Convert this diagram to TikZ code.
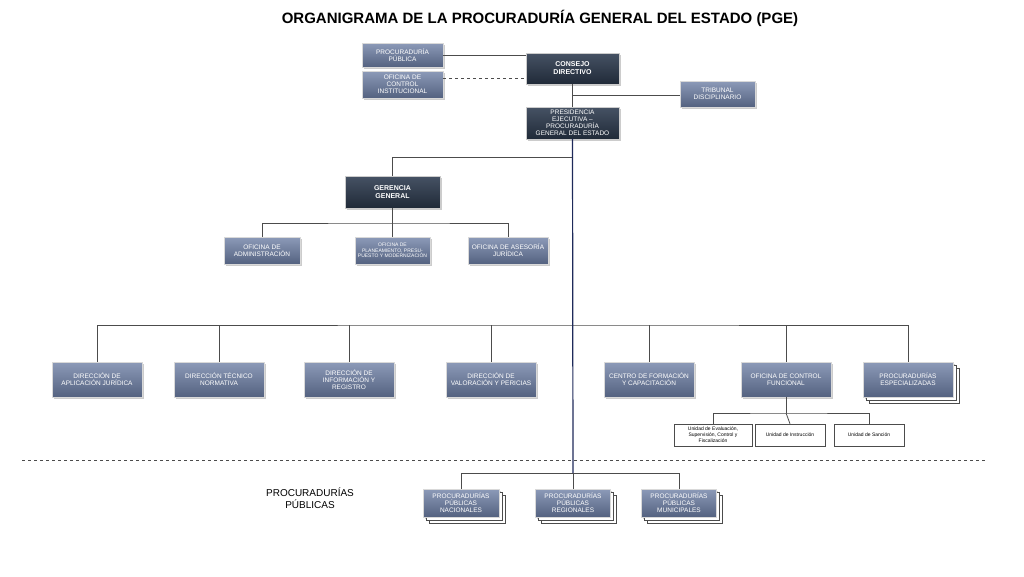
\documentclass[tikz,border=0pt]{standalone}
\usepackage{fontspec}
\setmainfont{Liberation Sans}
\usetikzlibrary{shadows}
\definecolor{lt}{RGB}{140,154,184}
\definecolor{lm}{RGB}{112,126,156}
\definecolor{lbm}{RGB}{84,98,128}
\definecolor{dt}{RGB}{70,82,100}
\definecolor{dbm}{RGB}{32,42,56}
\definecolor{trk}{RGB}{30,42,90}
\begin{document}
\begin{tikzpicture}[x=1pt,y=-1pt,
 lb/.style={draw=white!70!gray,line width=0.4pt,top color=lt,middle color=lm,bottom color=lbm,
  text=white,font=\fontsize{6.5}{7}\selectfont,align=center,inner sep=1pt,drop shadow={shadow xshift=1.5pt,shadow yshift=-1.5pt,opacity=0.4}},
 db/.style={draw=white!60!gray,line width=0.4pt,top color=dt,bottom color=dbm,
  text=white,font=\bfseries\fontsize{7}{8}\selectfont,align=center,inner sep=1pt,drop shadow={shadow xshift=1.5pt,shadow yshift=-1.5pt,opacity=0.4}},
 st/.style={lb,double copy shadow={shadow xshift=3pt,shadow yshift=-3pt,fill=white,draw=black!70}},
 ub/.style={draw=black!70,fill=white,font=\fontsize{5}{6}\selectfont,align=center,inner sep=1pt},
 ln/.style={draw=black!70,line width=0.8pt},
 tr/.style={draw=trk,line width=1.2pt}]
\useasboundingbox (0,0) rectangle (1024,576);
\node[font=\bfseries\fontsize{15}{17}\selectfont] (title) at (540,18) {ORGANIGRAMA DE LA PROCURADURÍA GENERAL DEL ESTADO (PGE)};
\node[lb,minimum width=81pt,minimum height=24pt] (pp) at (402.5,55) {PROCURADURÍA\\PÚBLICA};
\node[lb,minimum width=81pt,minimum height=27pt] (oci) at (402.5,84.5) {OFICINA DE\\CONTROL\\INSTITUCIONAL};
\node[db,minimum width=93pt,minimum height=31pt] (cd) at (572.5,68.5) {CONSEJO\\DIRECTIVO};
\node[lb,minimum width=75pt,minimum height=26pt] (td) at (717.5,94) {TRIBUNAL\\DISCIPLINARIO};
\node[db,font=\fontsize{6.5}{7}\selectfont,minimum width=93pt,minimum height=32pt] (pe) at (572.5,123) {PRESIDENCIA\\EJECUTIVA –\\PROCURADURÍA\\GENERAL DEL ESTADO};
\node[db,minimum width=95pt,minimum height=32pt] (gg) at (392.5,192) {GERENCIA\\GENERAL};
\node[lb,minimum width=76pt,minimum height=27pt] (oa) at (262,250.5) {OFICINA DE\\ADMINISTRACIÓN};
\node[lb,font=\fontsize{5}{5.5}\selectfont,minimum width=75pt,minimum height=27pt] (op) at (392.5,250.5) {OFICINA DE\\PLANEAMIENTO, PRESU-\\PUESTO Y MODERNIZACIÓN};
\node[lb,minimum width=80pt,minimum height=27pt] (oj) at (508,250.5) {OFICINA DE ASESORÍA\\JURÍDICA};
\foreach \n/\x/\t in {d1/97/{DIRECCIÓN  DE\\APLICACIÓN JURÍDICA},d2/219/{DIRECCIÓN TÉCNICO\\NORMATIVA},d3/349/{DIRECCIÓN DE\\INFORMACIÓN Y\\REGISTRO},d4/491/{DIRECCIÓN DE\\VALORACIÓN Y PERICIAS},d5/649/{CENTRO DE FORMACIÓN\\Y CAPACITACIÓN},d6/786/{OFICINA DE CONTROL\\FUNCIONAL}}
  \node[lb,minimum width=90pt,minimum height=35pt] (\n) at (\x,379.5) {\t};
\node[st,minimum width=90pt,minimum height=35pt] (d7) at (908,379.5) {PROCURADURÍAS\\ESPECIALIZADAS};
\node[ub,minimum width=78pt,minimum height=22pt] (u1) at (713,435) {Unidad de Evaluación,\\Supervisión, Control y\\Fiscalización};
\node[ub,minimum width=70pt,minimum height=22pt] (u2) at (790,435) {Unidad de Instrucción};
\node[ub,minimum width=70pt,minimum height=22pt] (u3) at (869,435) {Unidad de Sanción};
\node[font=\fontsize{10}{12}\selectfont,align=center] (ppl) at (310,498) {PROCURADURÍAS\\PÚBLICAS};
\node[st,minimum width=76pt,minimum height=28pt] (b1) at (461,503) {PROCURADURÍAS\\PÚBLICAS\\NACIONALES};
\node[st,minimum width=75pt,minimum height=28pt] (b2) at (573,503) {PROCURADURÍAS\\PÚBLICAS\\REGIONALES};
\node[st,minimum width=75pt,minimum height=28pt] (b3) at (679,503) {PROCURADURÍAS\\PÚBLICAS\\MUNICIPALES};
\coordinate (j1) at (573,95); \coordinate (j2) at (573,157); \coordinate (j3) at (573,325);
\coordinate (j4) at (392.5,223); \coordinate (j5) at (786,413); \coordinate (j6) at (573,473);
\coordinate (dl) at (22,460); \coordinate (dr) at (985,460);
\draw[ln] (pp.east) -- (pp.east -| cd.west);
\draw[ln,dashed,line width=0.6pt] (oci.east|-0,78) -- (cd.west|-0,78);
\draw[ln] (cd.south) -- (pe.north);
\draw[ln] (j1) -- (j1 -| td.west);
\draw[ln] (j2) -| (gg.north);
\draw[ln] (gg.south) -- (j4);
\draw[ln] (oa.north) |- (j4) -| (oj.north);
\draw[ln] (j4) -- (op.north);
\draw[ln] (d1.north) |- (j3) -| (d7.north);
\foreach \n in {d2,d3,d4,d5,d6} \draw[ln] (\n.north) -- (\n.north|-j3);
\draw[ln] (d6.south) -- (j5);
\draw[ln] (u1.north) |- (j5) -| (u3.north);
\draw[ln] (j5) -- (u2.north);
\draw[ln] (b1.north) |- (j6) -| (b3.north);
\draw[ln] (j6) -- (b2.north);
\draw[tr] (pe.south) -- (j6);
\draw[black!70,dashed,line width=0.6pt] (dl) -- (dr);
\end{tikzpicture}
\end{document}
